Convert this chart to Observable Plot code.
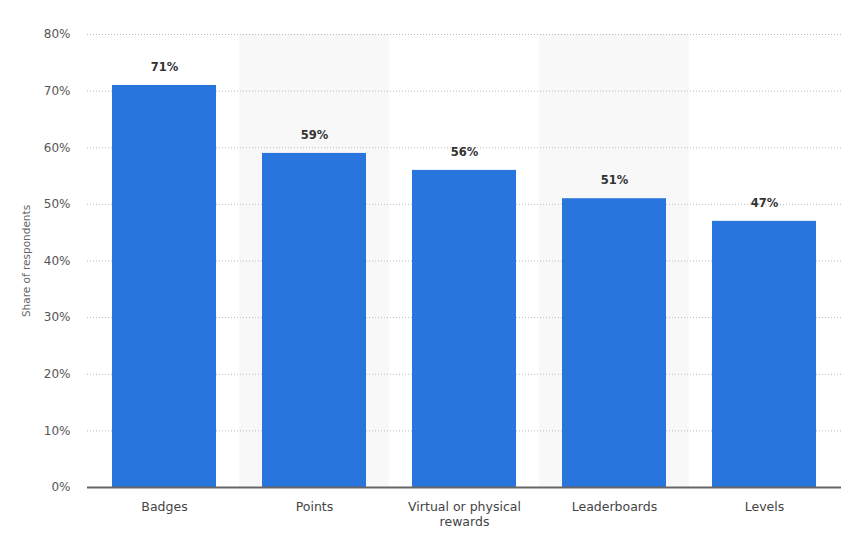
<!DOCTYPE html>
<html><head><meta charset="utf-8">
<script src="https://cdn.jsdelivr.net/npm/d3@7"></script>
<script src="https://cdn.jsdelivr.net/npm/@observablehq/plot@0.6"></script>
<style>body{margin:0;background:#fff;font-family:"DejaVu Sans",sans-serif;}</style>
</head><body><div id="chart"></div>
<script>
const categories = ["Badges","Points","Virtual or physical\nrewards","Leaderboards","Levels"];
const values = [71,59,56,51,47];
const yTicks = [0,10,20,30,40,50,60,70,80];
const shaded = ["Points","Leaderboards"];

const data = categories.map((c,i)=>({cat:c, v:values[i]}));
const bands = data.filter(d=>shaded.includes(d.cat));

const chart = Plot.plot({
  width: 853, height: 541,
  marginLeft: 87, marginRight: 12, marginTop: 34, marginBottom: 54,
  style: {fontFamily: "DejaVu Sans, sans-serif", fontSize: "12px", color: "#555", background: "#fff"},
  x: {domain: categories, padding: 0, label: null},
  y: {domain: [0,80], label: "Share of respondents"},
  marks: [
    Plot.barY(bands, {x:"cat", y1:0, y2:80, fill:"#f8f8f8"}),
    Plot.gridY(yTicks.filter(t=>t>0), {stroke:"#bbb", strokeOpacity:1, strokeDasharray:"1,2"}),
    Plot.barY(data, {x:"cat", y:"v", fill:"#2876dd", insetLeft:23, insetRight:23}),
    Plot.text(data, {x:"cat", y:"v", text:d=>d.v+"%", dy:-18, fill:"#333", fontWeight:"bold", fontSize:11.5}),
    Plot.ruleY([0], {stroke:"#666", strokeWidth:2}),
    Plot.axisX({tickSize:0, tickPadding:12, lineHeight:1.25, fill:"#444", fontSize:12.5, label:null}),
    Plot.axisY({ticks:yTicks, tickFormat:d=>d+"%", tickSize:0, tickPadding:17, fill:"#555", fontSize:12, label:null}),
    Plot.axisY({ticks:[], label:"Share of respondents", labelAnchor:"center", labelArrow:"none", labelOffset:65, fontSize:10.5, fill:"#666"})
  ]
});
document.getElementById("chart").appendChild(chart);
</script></body></html>
